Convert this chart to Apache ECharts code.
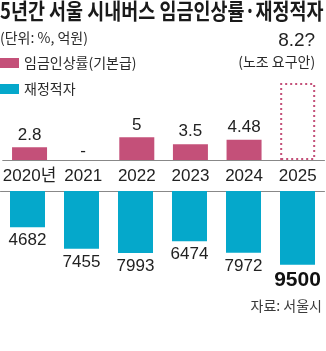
<!DOCTYPE html>
<html><head><meta charset="utf-8">
<script src="https://cdn.jsdelivr.net/npm/echarts@6/dist/echarts.min.js"></script>
<style>html,body{margin:0;padding:0;background:#fff}#c{width:326px;height:351px}</style>
</head><body><div id="c"></div>
<script>
const years = ['2020년', '2021', '2022', '2023', '2024', '2025'];
const wageRates = [2.8, 0, 5, 3.5, 4.48, null];
const unionDemand = [null, null, null, null, null, 8.2];
const deficits = [4682, 7455, 7993, 6474, 7972, 9500];
const titleText = '5년간 서울 시내버스 임금인상률·재정적자';
const unitText = '(단위: %, 억원)';
const sourceText = '자료: 서울시';
const wageName = '임금인상률(기본급)';
const deficitName = '재정적자';

const FONT = "'Liberation Sans','Noto Sans CJK KR',sans-serif";
const KFONT = "'Noto Sans CJK KR',sans-serif";
const PINK = '#c45079';
const BLUE = '#05a8cb';

const chart = echarts.init(document.getElementById('c'), null, {renderer: 'canvas'});
const last = deficits.length - 1;
chart.setOption({
  animation: false,
  backgroundColor: '#fff',
  grid: [
    {left: 0.5, width: 324, top: 83, height: 77},
    {left: 0.5, width: 324, top: 191, height: 77.5}
  ],
  legend: {
    data: [wageName, deficitName],
    orient: 'vertical', left: 0, top: 56, padding: 0,
    itemWidth: 19, itemHeight: 10, itemGap: 12, icon: 'rect',
    selectedMode: false,
    textStyle: {fontSize: 14, color: '#2a2a2a', fontFamily: KFONT}
  },
  xAxis: [
    {gridIndex: 0, type: 'category', data: years, position: 'bottom',
     axisLine: {lineStyle: {color: '#888', width: 1}}, axisTick: {show: false},
     axisLabel: {margin: 8, fontSize: 17, color: '#222', fontFamily: FONT, interval: 0}},
    {gridIndex: 1, type: 'category', data: years, position: 'top',
     axisLine: {lineStyle: {color: '#888', width: 1}}, axisTick: {show: false},
     axisLabel: {show: false}}
  ],
  yAxis: [
    {gridIndex: 0, min: 0, max: 17, show: false},
    {gridIndex: 0, min: 0, max: 8.2, show: false},
    {gridIndex: 1, min: 0, max: 10000, inverse: true, show: false}
  ],
  series: [
    {name: wageName, type: 'bar', xAxisIndex: 0, yAxisIndex: 0,
     data: wageRates.map(v => (v === 0 ? {value: v, label: {offset: [0, 4]}} : v)),
     barWidth: 35, barGap: '-100%', itemStyle: {color: PINK},
     label: {show: true, position: 'top', distance: 4, fontSize: 17, color: '#222', fontFamily: FONT,
       formatter: p => (p.value === 0 ? '-' : String(p.value))}},
    {name: '노조 요구안', type: 'bar', xAxisIndex: 0, yAxisIndex: 1, data: unionDemand,
     barWidth: 35, barGap: '-100%',
     itemStyle: {color: 'rgba(0,0,0,0)', borderColor: PINK, borderWidth: 2, borderType: [2, 3]},
     label: {show: true, position: ['100%', 0], align: 'right', verticalAlign: 'bottom', offset: [0, -11],
       formatter: p => '{a|' + p.value + '?}\n{b|(노조 요구안)}',
       rich: {
         a: {fontSize: 19, color: '#222', fontFamily: FONT, align: 'right', lineHeight: 22},
         b: {fontSize: 14, color: '#2a2a2a', fontFamily: KFONT, align: 'right', lineHeight: 20}
       }}},
    {name: deficitName, type: 'bar', xAxisIndex: 1, yAxisIndex: 2,
     data: deficits.map((v, i) => i === last ? {value: v, label: {fontWeight: 'bold', fontSize: 21, color: '#111'}} : v),
     barWidth: 35, itemStyle: {color: BLUE},
     label: {show: true, position: 'bottom', distance: 5, fontSize: 17, color: '#222', fontFamily: FONT}}
  ],
  graphic: [
    {type: 'text', x: 0, y: 0, scaleX: 0.84,
     style: {text: titleText, fontSize: 22, fontWeight: 'bold', fontFamily: KFONT, fill: '#1a1a1a', verticalAlign: 'top'}},
    {type: 'text', x: 0, y: 31,
     style: {text: unitText, fontSize: 14, fontFamily: KFONT, fill: '#2a2a2a', verticalAlign: 'top'}},
    {type: 'text', x: 322, y: 299,
     style: {text: sourceText, fontSize: 14, fontFamily: KFONT, fill: '#3a3a3a', align: 'right', verticalAlign: 'top'}}
  ]
});
</script>
</body></html>
